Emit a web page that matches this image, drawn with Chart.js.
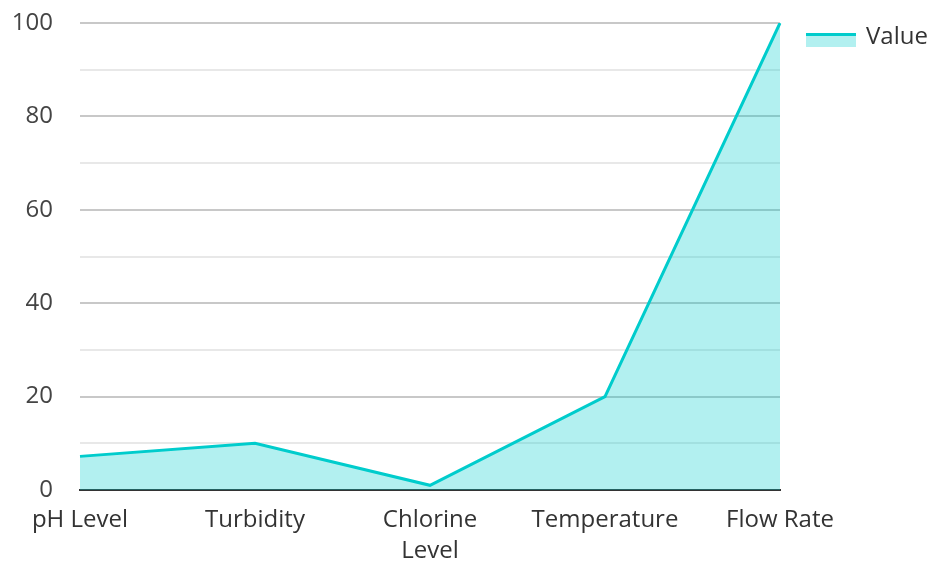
<!DOCTYPE html>
<html>
<head>
<meta charset="utf-8">
<script src="https://cdn.jsdelivr.net/npm/chart.js@4"></script>
<style>
    html, body { margin: 0; padding: 0; background: #ffffff; }
    #caixa { width: 931px; height: 562px; }
</style>
</head>
<body>
<div id="caixa"><canvas id="dashboard"></canvas></div>
<script>
const categorias = [['pH Level'], ['Turbidity'], ['Chlorine', 'Level'], ['Temperature'], ['Flow Rate']];
const valores = [7.2, 10, 1, 20, 100];
const nomeSerie = 'Value';

const corLinha = 'rgb(0, 204, 204)';
const corArea = 'rgba(0, 204, 204, 0.3)';

// legenda desenhada na mao, pra ficar no lugar certo
const legendaManual = {
    id: 'legendaManual',
    afterDraw(chart) {
        const ctx = chart.ctx;
        const x = 806;
        const y = 33;
        ctx.save();
        ctx.fillStyle = corArea;
        ctx.fillRect(x, y, 50, 14);
        ctx.fillStyle = corLinha;
        ctx.fillRect(x, y, 50, 3);
        ctx.fillStyle = '#333333';
        ctx.font = '24px "Open Sans"';
        ctx.textBaseline = 'middle';
        ctx.fillText(nomeSerie, 866, 37);
        ctx.restore();
    }
};

Chart.defaults.font.family = '"Open Sans", sans-serif';
Chart.defaults.font.size = 24;

const config = {
    type: 'line',
    data: {
        labels: categorias,
        datasets: [{
            label: nomeSerie,
            data: valores,
            borderColor: corLinha,
            backgroundColor: corArea,
            borderWidth: 3,
            fill: 'origin',
            tension: 0,
            pointRadius: 0
        }]
    },
    options: {
        responsive: true,
        maintainAspectRatio: false,
        animation: false,
        layout: {
            padding: { left: 12, right: 151, top: 23, bottom: 0 }
        },
        plugins: {
            legend: { display: false },
            tooltip: { enabled: false }
        },
        scales: {
            x: {
                offset: false,
                grid: { display: false, drawTicks: false },
                border: { color: '#333333', width: 2 },
                ticks: {
                    color: '#333333',
                    padding: 14,
                    maxRotation: 0,
                    autoSkip: false,
                    font: { size: 24, lineHeight: 1.32 }
                },
                afterFit: function (s) {
                    s.height = 72;
                    s.paddingLeft = 0;
                    s.paddingRight = 0;
                }
            },
            y: {
                min: 0,
                max: 100,
                border: { display: false },
                grid: {
                    drawTicks: false,
                    lineWidth: 2,
                    color: function (c) {
                        if (c.tick.value == 0) return 'rgba(0,0,0,0)';
                        return c.tick.value % 20 == 0 ? '#c8c8c8' : '#e8e8e8';
                    }
                },
                ticks: {
                    stepSize: 10,
                    color: '#444444',
                    padding: 27,
                    callback: function (v) { return v % 20 == 0 ? v : ''; }
                },
                afterFit: function (s) {
                    s.width = 68;
                    s.paddingTop = 0;
                    s.paddingBottom = 0;
                }
            }
        }
    },
    plugins: [legendaManual]
};

let grafico = new Chart(document.getElementById('dashboard'), config);
</script>
</body>
</html>
